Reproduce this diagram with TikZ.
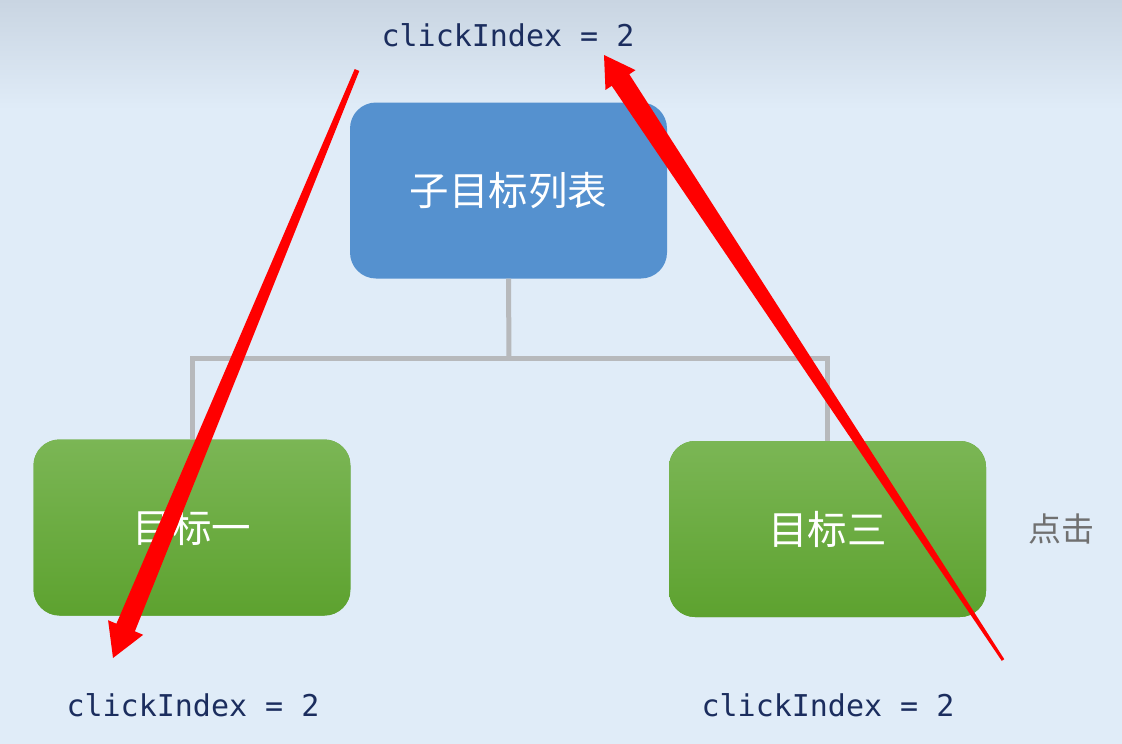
\documentclass[tikz,border=0pt]{standalone}
\usepackage{fontspec}
\setmonofont{DejaVu Sans Mono}
\newfontfamily\cjk{Noto Sans CJK SC}
\usetikzlibrary{calc}
\definecolor{bgtop}{HTML}{C9D5E2}
\definecolor{bgmain}{HTML}{E0ECF8}
\definecolor{rootblue}{HTML}{5591CF}
\definecolor{gtop}{HTML}{7BB655}
\definecolor{gbot}{HTML}{5DA22F}
\definecolor{linkgray}{HTML}{B7B9BC}
\definecolor{codeblue}{HTML}{1B2D5E}
\definecolor{hintgray}{HTML}{707070}
\definecolor{arrred}{HTML}{FF0000}
\newcommand\myredarrow[6]{%
  \coordinate (hb) at ($(#2)!#5!(#1)$);
  \fill[arrred]
    ($(#1)!#3!90:(#2)$) -- ($(hb)!#4!90:(#2)$) -- ($(hb)!#6!90:(#2)$) -- (#2)
    -- ($(hb)!#6!-90:(#2)$) -- ($(hb)!#4!-90:(#2)$) -- ($(#1)!#3!-90:(#2)$) -- cycle;
}
\tikzset{
  box/.style={rounded corners=26pt, minimum width=317pt, minimum height=176pt,
    inner sep=0pt, text=white, font=\cjk\fontsize{39.5}{42}\selectfont},
  rootbox/.style={box, fill=rootblue},
  goalbox/.style={box, fill=gbot, path picture={
      \shade[top color=gtop, bottom color=gbot]
        (path picture bounding box.north west) rectangle (path picture bounding box.south east);}},
  link/.style={draw=linkgray, line width=5pt},
  code/.style={text=codeblue, font=\ttfamily\fontsize{30}{32}\selectfont, inner sep=0pt},
  hint/.style={text=hintgray, font=\cjk\fontsize{33}{35}\selectfont, inner sep=0pt}
}
\begin{document}
\begin{tikzpicture}[x=1pt,y=-1pt]
\useasboundingbox (0,0) rectangle (1122,744);
\fill[bgmain] (0,0) rectangle (1122,744);
\shade[top color=bgtop, bottom color=bgmain] (0,0) rectangle (1122,110);

\node[rootbox] (root) at (508.5,190.5) {子目标列表};
\node[goalbox] (g1) at (192,527.5) {目标一};
\node[goalbox] (g3) at (827.5,529) {目标三};
\coordinate (j) at (509,358);

\draw[link] (root.south) -- (j);
\draw[link] (g1.north) -- (g1.north |- j) -- (g3.north |- j) -- (g3.north);

\node[hint] (click) at (1061,529) {点击};

\node[code] (ltop) at (508,35) {clickIndex = 2};
\node[code] (lleft) at (193,705) {clickIndex = 2};
\node[code] (lright) at (828,705) {clickIndex = 2};

\coordinate (a1t) at (357,70);
\coordinate (a1h) at (113,658);
\coordinate (a2t) at (1003,660);
\coordinate (a2h) at (604,55);
\myredarrow{a1t}{a1h}{2.5pt}{10pt}{33pt}{19pt}
\myredarrow{a2t}{a2h}{1.5pt}{10.5pt}{30pt}{18pt}
\end{tikzpicture}
\end{document}
